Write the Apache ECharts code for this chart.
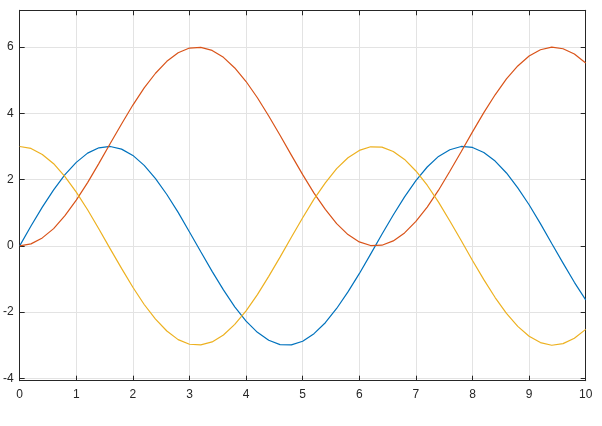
<!DOCTYPE html>
<html><head><meta charset="utf-8">
<script src="https://cdn.jsdelivr.net/npm/echarts@6/dist/echarts.min.js"></script>
<style>html,body{margin:0;padding:0;background:#fff}#c{width:602px;height:426px}</style>
</head><body><div id="c"></div>
<script>
var xs = [0,0.2,0.4,0.6,0.8,1,1.2,1.4,1.6,1.8,2,2.2,2.4,2.6,2.8,3,3.2,3.4,3.6,3.8,4,4.2,4.4,4.6,4.8,5,5.2,5.4,5.6,5.8,6,6.2,6.4,6.6,6.8,7,7.2,7.4,7.6,7.8,8,8.2,8.4,8.6,8.8,9,9.2,9.4,9.6,9.8,10];
var blueY = [0,0.60,1.17,1.69,2.15,2.52,2.80,2.96,3.00,2.92,2.73,2.43,2.03,1.55,1.01,0.42,-0.18,-0.77,-1.33,-1.84,-2.27,-2.61,-2.85,-2.98,-2.99,-2.88,-2.65,-2.32,-1.89,-1.39,-0.84,-0.25,0.35,0.93,1.48,1.97,2.38,2.70,2.90,3.00,2.97,2.82,2.56,2.20,1.75,1.24,0.67,0.07,-0.52,-1.10,-1.63];
var orangeY = [0.00,0.06,0.24,0.52,0.91,1.38,1.91,2.49,3.09,3.68,4.25,4.77,5.21,5.57,5.83,5.97,5.99,5.90,5.69,5.37,4.96,4.47,3.92,3.34,2.74,2.15,1.59,1.10,0.67,0.34,0.12,0.01,0.02,0.15,0.39,0.74,1.17,1.68,2.25,2.84,3.44,4.02,4.56,5.04,5.43,5.73,5.92,6.00,5.95,5.79,5.52];
var yellowY = [3.00,2.94,2.76,2.48,2.09,1.62,1.09,0.51,-0.09,-0.68,-1.25,-1.77,-2.21,-2.57,-2.83,-2.97,-2.99,-2.90,-2.69,-2.37,-1.96,-1.47,-0.92,-0.34,0.26,0.85,1.41,1.90,2.33,2.66,2.88,2.99,2.98,2.85,2.61,2.26,1.83,1.32,0.75,0.16,-0.44,-1.02,-1.56,-2.04,-2.43,-2.73,-2.92,-3.00,-2.95,-2.79,-2.52];
var yTicks = [-4,-2,0,2,4,6];
var xTicks = [0,1,2,3,4,5,6,7,8,9,10];

function pairs(ys){ return xs.map(function(x,i){ return [x, ys[i]]; }); }
var axisCol = '#262626';
var gridCol = '#e3e3e3';
var font = {color: axisCol, fontSize: 12, fontFamily: 'Liberation Sans, Arial, sans-serif'};

var chart = echarts.init(document.getElementById('c'), null, {renderer:'canvas'});
chart.setOption({
  animation: false,
  grid: {left: 17.5, right: 16.3, top: 10.3, bottom: 45.3, containLabel: false},
  xAxis: [
    {type:'value', min:0, max:10, interval:1, position:'bottom',
     axisLine:{show:true, onZero:false, lineStyle:{color:axisCol, width:1}},
     axisTick:{show:true, inside:true, length:5, lineStyle:{color:axisCol}},
     axisLabel:Object.assign({margin:8}, font),
     splitLine:{show:true, lineStyle:{color:gridCol, width:1}}},
    {type:'value', min:0, max:10, interval:1, position:'top',
     axisLine:{show:true, onZero:false, lineStyle:{color:axisCol, width:1}},
     axisTick:{show:true, inside:true, length:5, lineStyle:{color:axisCol}},
     axisLabel:{show:false}, splitLine:{show:false}}
  ],
  yAxis: [
    {type:'value', min:-4.07, max:7.11, position:'left',
     axisLine:{show:true, onZero:false, lineStyle:{color:axisCol, width:1}},
     axisTick:{show:true, inside:true, length:5, customValues:yTicks, lineStyle:{color:axisCol}},
     axisLabel:Object.assign({margin:6, customValues:yTicks}, font),
     splitLine:{show:true, lineStyle:{color:gridCol, width:1}}},
    {type:'value', min:-4.07, max:7.11, position:'right',
     axisLine:{show:true, onZero:false, lineStyle:{color:axisCol, width:1}},
     axisTick:{show:true, inside:true, length:5, customValues:yTicks, lineStyle:{color:axisCol}},
     axisLabel:{show:false}, splitLine:{show:false}}
  ],
  series: [
    {type:'line', data:pairs(blueY), showSymbol:false, symbol:'none', lineStyle:{color:'#0072BD', width:1.2}, itemStyle:{color:'#0072BD'}},
    {type:'line', data:pairs(orangeY), showSymbol:false, symbol:'none', lineStyle:{color:'#D95319', width:1.2}, itemStyle:{color:'#D95319'}},
    {type:'line', data:pairs(yellowY), showSymbol:false, symbol:'none', lineStyle:{color:'#EDB120', width:1.2}, itemStyle:{color:'#EDB120'}}
  ]
});
</script></body></html>
